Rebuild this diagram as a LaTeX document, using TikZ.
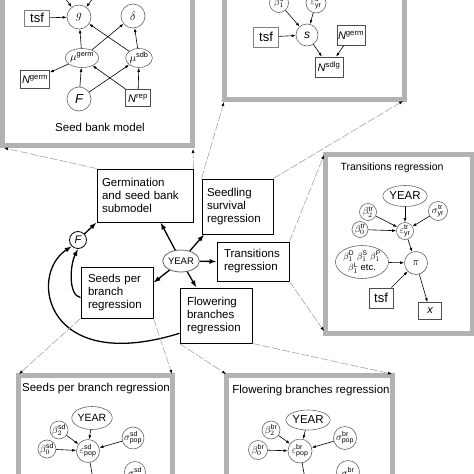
\documentclass[tikz,border=0pt]{standalone}
\usepackage{fontspec}
\setmainfont{Liberation Sans}
\usepackage{amsmath}
\usepackage{amssymb}
\usetikzlibrary{shapes.geometric, arrows.meta}

\begin{document}
\begin{tikzpicture}[x=1pt,y=1pt,
  panel/.style={draw=black!30, line width=5pt},
  bigbox/.style={draw=black, line width=1pt, align=left, inner ysep=0pt, font=\fontsize{11.5}{13}\selectfont},
  bigarr/.style={line width=1.3pt, -{Latex[length=7pt,width=5pt]}},
  link/.style={draw=black!35, line width=0.6pt, dash pattern=on 8pt off 2pt, -{Latex[length=4pt,width=3pt,color=black]}},
  smallarr/.style={line width=0.6pt, -{Latex[length=4pt,width=2.8pt]}},
  nd/.style={draw=black!60, line width=0.6pt, circle, inner sep=0pt, font=\fontsize{10}{11}\selectfont},
  bx/.style={draw=black!70, line width=0.8pt, rectangle, inner sep=0pt, font=\fontsize{11}{12}\selectfont},
  ov/.style={draw=black!60, line width=0.6pt, ellipse, inner sep=0pt},
  ttl/.style={font=\fontsize{11.5}{13}\selectfont},
]
\useasboundingbox[fill=white] (0,0) rectangle (474,-474);

\draw[panel] (2.5,10) rectangle (192.5,-145.5);
\draw[panel] (224,10) rectangle (404,-99);
\draw[panel] (325.5,-154.5) rectangle (472.5,-333);
\draw[panel] (18.5,-375) rectangle (172,-490);
\draw[panel] (226.5,-375) rectangle (392.5,-490);

% central diagram
\node[bigbox, text width=86pt, minimum height=53pt, inner xsep=5pt] (germ) at (145,-195.5) {Germination\\and seed bank\\submodel};
\node[bigbox, text width=61pt, minimum height=55pt, inner xsep=5pt] (sdlg) at (237.5,-206.5) {Seedling\\survival\\regression};
\node[bigbox, text width=58pt, minimum height=39pt, inner xsep=7pt] (trans) at (253,-261.5) {Transitions\\regression};
\node[bigbox, text width=58pt, minimum height=51pt, inner xsep=7pt] (seeds) at (117,-292.5) {Seeds per\\branch\\regression};
\node[bigbox, text width=58pt, minimum height=55pt, inner xsep=7pt] (flow) at (216,-315.5) {Flowering\\branches\\regression};
\node[ov, draw=black!60, line width=0.8pt, minimum width=32pt, minimum height=22pt, font=\fontsize{9.5}{10}\selectfont] (year) at (181,-261) {YEAR};
\node[circle, draw, line width=0.8pt, minimum size=17pt, inner sep=0pt, font=\fontsize{11}{12}\selectfont\itshape] (F) at (78,-240) {F};

\draw[bigarr] (F) -- (germ.south west);
\draw[bigarr] (seeds.188) .. controls (68,-295) and (70,-265) .. (F.south);
\draw[bigarr] (flow.206) .. controls (45,-375) and (28,-275) .. (F.south west);
\draw[bigarr] (year) -- (germ.-60);
\draw[bigarr] (year) -- (sdlg.220);
\draw[bigarr] (year) -- (trans.west);
\draw[bigarr] (year) -- (seeds.15);
\draw[bigarr] (year) -- (flow.125);

\coordinate (sbBL) at (4,-148);
\coordinate (sbBR) at (193,-149);
\coordinate (ssBL) at (224,-102);
\coordinate (ssBR) at (403,-101);
\coordinate (trTL) at (324,-155);
\coordinate (trBL) at (324,-331);
\coordinate (spTL) at (19,-374);
\coordinate (spTR) at (172,-374);
\coordinate (fbTL) at (226,-374);
\coordinate (fbTR) at (392,-374);
\draw[link] (germ.north west) -- (sbBL);
\draw[link] (germ.north east) -- (sbBR);
\draw[link] (sdlg.north west) -- (ssBL);
\draw[link] (sdlg.north east) -- (ssBR);
\draw[link] (trans.north east) -- (trTL);
\draw[link] (trans.south east) -- (trBL);
\draw[link] (seeds.south west) -- (spTL);
\draw[link] (seeds.south east) -- (spTR);
\draw[link] (flow.south west) -- (fbTL);
\draw[link] (flow.south east) -- (fbTR);

% seed bank model
\node[bx, draw=black!50, minimum width=25pt, minimum height=16pt, font=\fontsize{13}{14}\selectfont] (tsfa) at (37,-18) {tsf};
\node[nd, minimum size=24pt, font=\fontsize{13}{14}\selectfont] (g) at (79,-17) {$g$};
\node[nd, minimum size=24pt, font=\fontsize{12}{14}\selectfont] (delta) at (133,-16) {$\delta$};
\node[ov, minimum width=28pt, minimum height=19pt, font=\fontsize{10.5}{11}\selectfont] (mugerm) at (82,-58) {$\mu^{\mathrm{germ}}$};
\node[ov, minimum width=26pt, minimum height=19pt, font=\fontsize{10.5}{11}\selectfont] (musdb) at (139,-58) {$\mu^{\mathrm{sdb}}$};
\node[bx, minimum width=29pt, minimum height=18pt] (ngerma) at (35,-79) {\textit{N}$^{\mathrm{germ}}$};
\node[nd, minimum size=24pt, font=\fontsize{13}{14}\selectfont\itshape] (fa) at (79,-99) {F};
\node[bx, minimum width=25pt, minimum height=17pt] (nrep) at (138,-98) {\textit{N}$^{\mathrm{rep}}$};
\node[ttl] (sbtitle) at (100,-127) {Seed bank model};
\coordinate (gupl) at (62,6);
\coordinate (gupr) at (96,6);
\draw[smallarr] (gupl) -- (g);
\draw[smallarr] (gupr) -- (g);
\draw[smallarr] (tsfa) -- (g);
\draw[smallarr] (mugerm) -- (g);
\draw[smallarr] (musdb) -- (delta);
\draw[smallarr] (mugerm) -- (delta);
\draw[smallarr] (musdb) -- (g);
\draw[smallarr] (mugerm) -- (ngerma);
\draw[smallarr] (fa) -- (mugerm);
\draw[smallarr] (fa) -- (musdb);
\draw[smallarr] (nrep) -- (mugerm);
\draw[smallarr] (nrep) -- (musdb);

% seedling survival
\node[nd, minimum size=19pt] (b1s) at (279,-3) {$\beta^{\mathrm{s}}_{1}$};
\node[nd, minimum size=20pt] (eyrs) at (316,-3) {$\varepsilon^{\mathrm{s}}_{\mathrm{yr}}$};
\node[bx, draw=black!50, minimum width=25pt, minimum height=20pt, font=\fontsize{13}{14}\selectfont] (tsfb) at (266,-37) {tsf};
\node[nd, minimum size=22pt, font=\fontsize{12}{13}\selectfont\itshape] (s) at (307,-35) {s};
\node[bx, minimum width=28pt, minimum height=20pt] (ngermb) at (351,-35) {\textit{N}$^{\mathrm{germ}}$};
\node[bx, minimum width=28pt, minimum height=20pt] (nsdlg) at (329,-67) {\textit{N}$^{\mathrm{sdlg}}$};
\draw[smallarr] (b1s) -- (s);
\draw[smallarr] (eyrs) -- (s);
\draw[smallarr] (tsfb) -- (s);
\draw[smallarr] (s) -- (nsdlg);
\draw[smallarr] (ngermb) -- (nsdlg);

% transitions regression
\node[font=\fontsize{10.5}{12}\selectfont] (trtitle) at (392,-168) {Transitions regression};
\node[ov, minimum width=44pt, minimum height=21pt, font=\fontsize{11.5}{12}\selectfont] (yeartr) at (405,-196) {YEAR};
\node[nd, minimum size=17pt] (b2tr) at (368,-212) {$\beta^{\mathrm{tr}}_{2}$};
\node[nd, minimum size=19pt] (sytr) at (438,-211) {$\sigma^{\mathrm{tr}}_{\mathrm{yr}}$};
\node[nd, minimum size=16pt] (b0tr) at (360,-229.5) {$\beta^{\mathrm{tr}}_{0}$};
\node[nd, minimum size=17pt] (eytr) at (405,-231) {$\varepsilon^{\mathrm{tr}}_{\mathrm{yr}}$};
\node[ov, minimum width=49pt, minimum height=33pt, align=center, font=\fontsize{9.5}{10.5}\selectfont] (btr) at (362,-262) {$\beta^{\mathrm{D}}_{1}\ \beta^{\mathrm{S}}_{1}\ \beta^{\mathrm{P}}_{1}$\\$\beta^{\mathrm{L}}_{1}$ etc.};
\node[nd, minimum size=23pt, font=\fontsize{11}{12}\selectfont] (pi) at (416,-263) {$\pi$};
\node[bx, minimum width=24pt, minimum height=20pt, font=\fontsize{13}{14}\selectfont] (tsfc) at (381,-298) {tsf};
\node[bx, minimum width=23pt, minimum height=17pt, font=\fontsize{11}{12}\selectfont\itshape] (xtr) at (430,-311) {x};
\draw[smallarr] (yeartr) -- (eytr);
\draw[smallarr] (b2tr) -- (eytr);
\draw[smallarr] (sytr) -- (eytr);
\draw[smallarr] (b0tr) -- (eytr);
\draw[smallarr] (eytr) -- (pi);
\draw[smallarr] (btr) -- (pi);
\draw[smallarr] (tsfc) -- (pi);
\draw[smallarr] (pi) -- (xtr);

% seeds per branch regression
\node[ttl] (sptitle) at (96,-389) {Seeds per branch regression};
\node[ov, minimum width=37pt, minimum height=23pt, font=\fontsize{10.5}{12}\selectfont] (yearsd) at (92,-418) {YEAR};
\node[nd, minimum size=18pt] (b2sd) at (59,-430) {$\beta^{\mathrm{sd}}_{2}$};
\node[nd, minimum size=21pt] (spsd) at (133,-438) {$\sigma^{\mathrm{sd}}_{\mathrm{pop}}$};
\node[nd, minimum size=18pt] (b0sd) at (47,-449) {$\beta^{\mathrm{sd}}_{0}$};
\node[nd, minimum size=23pt] (epsd) at (88,-451) {$\varepsilon^{\mathrm{sd}}_{\mathrm{pop}}$};
\node[nd, minimum size=21pt] (ssd) at (135,-472) {$\sigma^{\mathrm{sd}}$};
\coordinate (epsddown) at (95,-490);
\draw[smallarr] (yearsd) -- (epsd);
\draw[smallarr] (b2sd) -- (epsd);
\draw[smallarr] (spsd) -- (epsd);
\draw[smallarr] (b0sd) -- (epsd);
\draw[smallarr] (epsd) -- (epsddown);

% flowering branches regression
\node[ttl] (fbtitle) at (311,-391) {Flowering branches regression};
\node[ov, minimum width=44pt, minimum height=20pt, font=\fontsize{11.5}{12}\selectfont] (yearbr) at (308,-420) {YEAR};
\node[nd, minimum size=18pt] (b2br) at (271,-430) {$\beta^{\mathrm{br}}_{2}$};
\node[nd, minimum size=23pt] (spbr) at (345,-438) {$\sigma^{\mathrm{br}}_{\mathrm{pop}}$};
\node[nd, minimum size=19pt] (b0br) at (258,-450) {$\beta^{\mathrm{br}}_{0}$};
\node[nd, minimum size=24pt] (epbr) at (300,-451) {$\varepsilon^{\mathrm{br}}_{\mathrm{pop}}$};
\node[nd, minimum size=23pt] (sbr) at (348,-472) {$\sigma^{\mathrm{br}}$};
\coordinate (epbrdown) at (307,-490);
\draw[smallarr] (yearbr) -- (epbr);
\draw[smallarr] (b2br) -- (epbr);
\draw[smallarr] (spbr) -- (epbr);
\draw[smallarr] (b0br) -- (epbr);
\draw[smallarr] (epbr) -- (epbrdown);
\end{tikzpicture}
\end{document}
